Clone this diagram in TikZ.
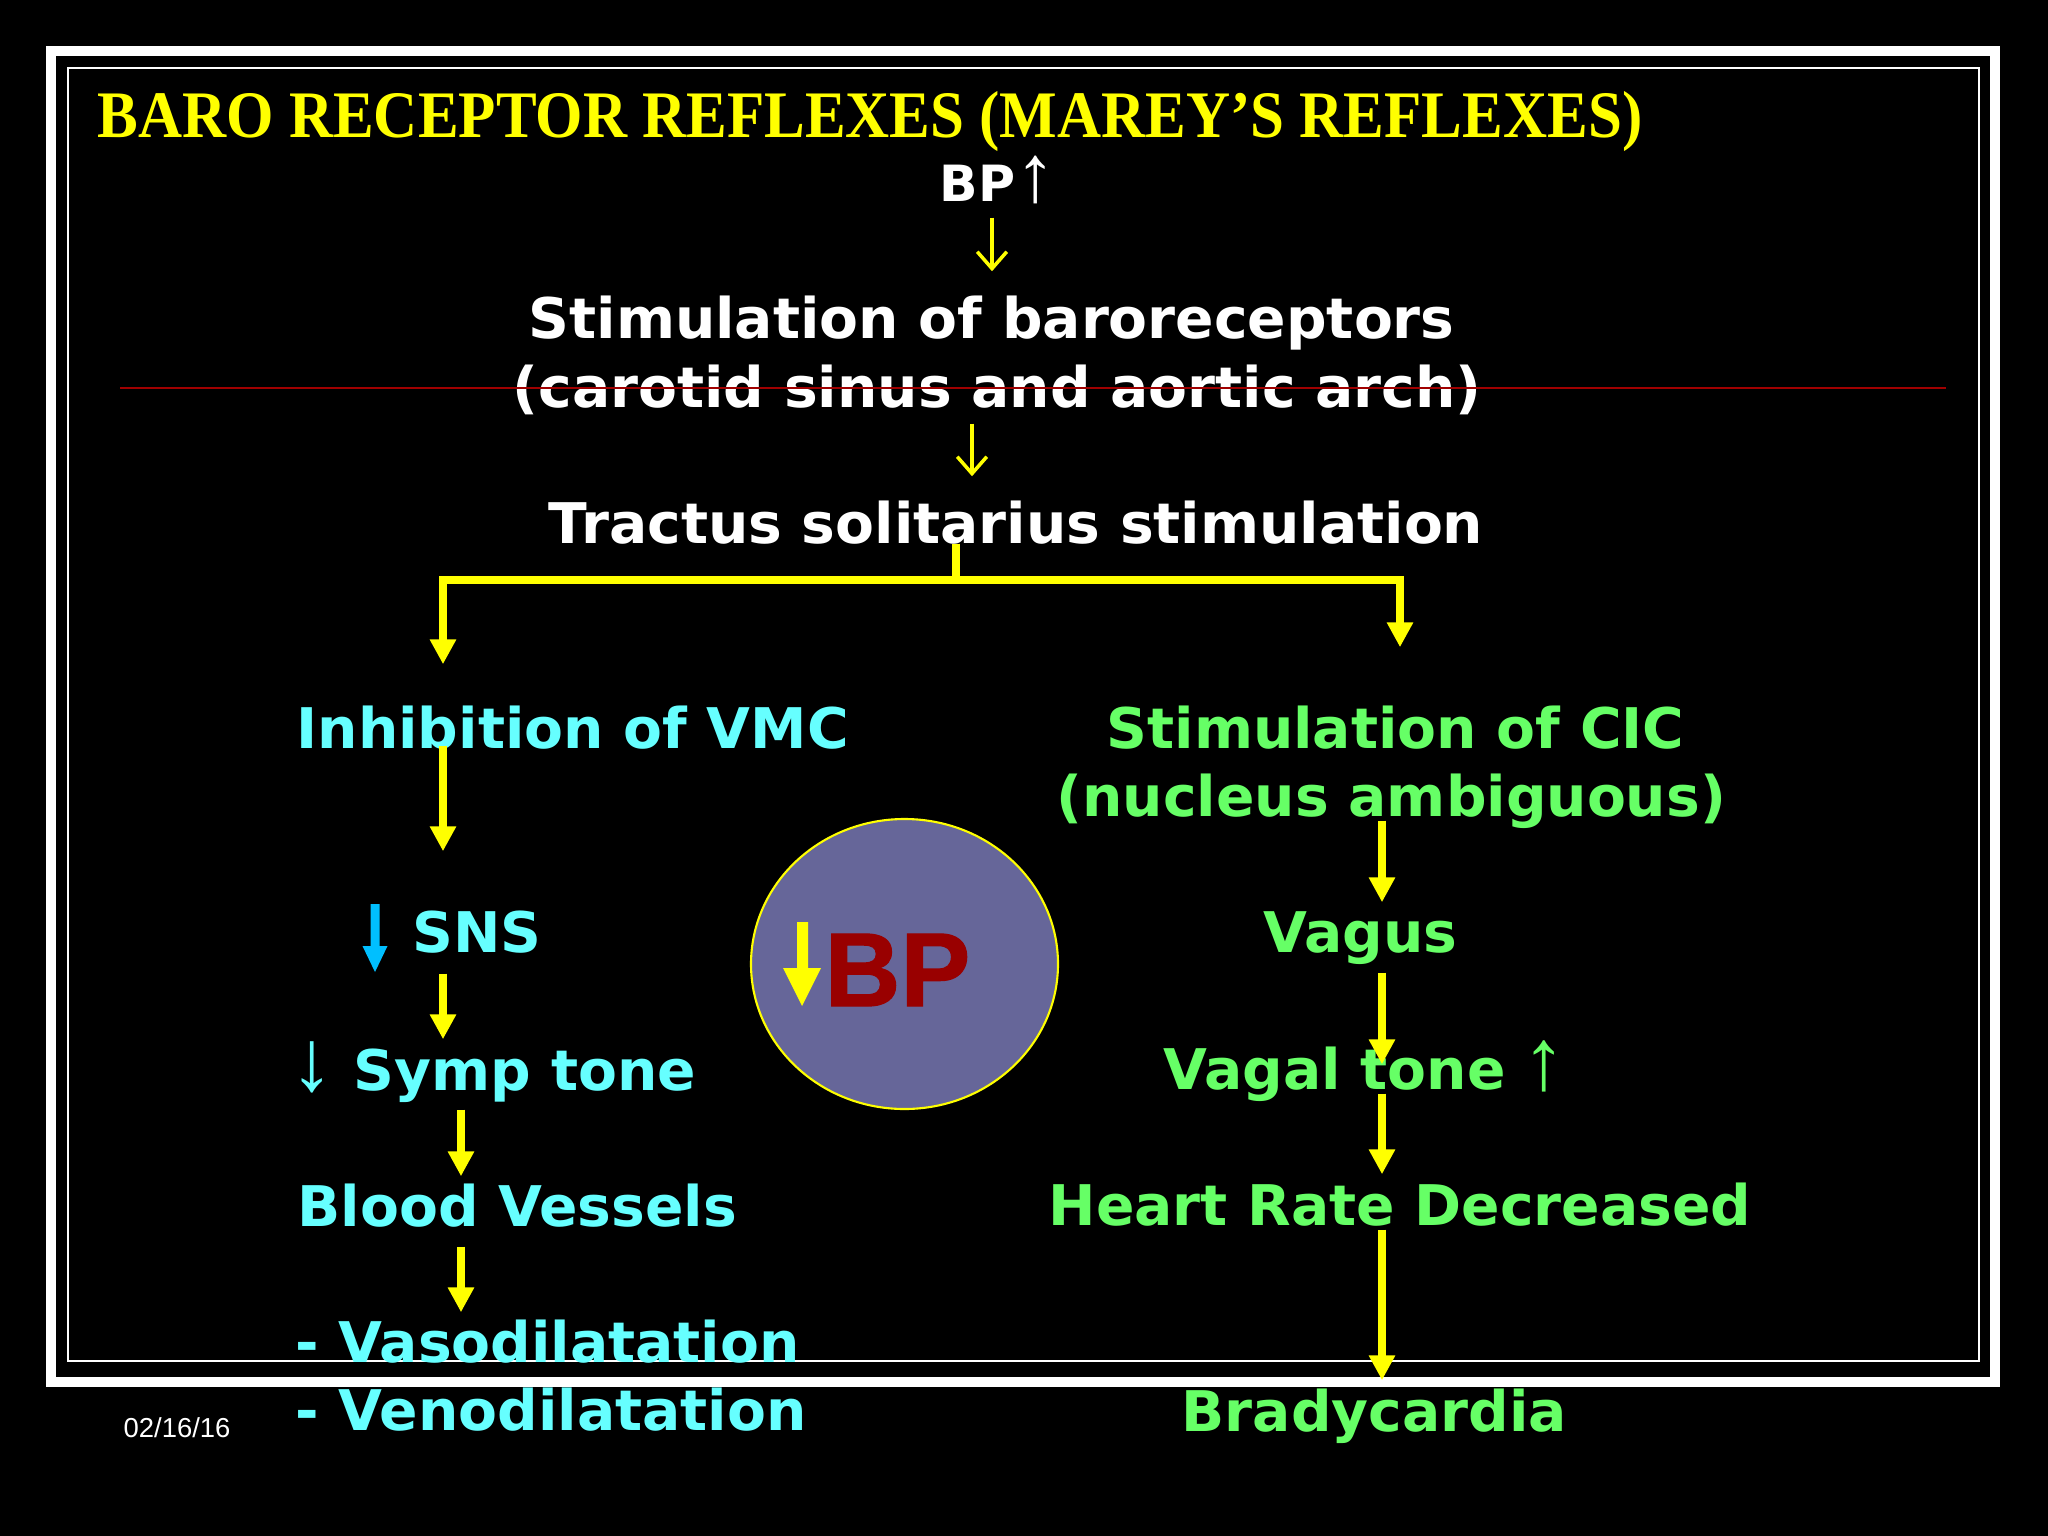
\documentclass[tikz,border=0pt]{standalone}
\usepackage{fontspec}
\setmainfont{DejaVu Sans}[FakeStretch=1.012]
\newfontfamily\titlefont{Liberation Serif}[FakeStretch=0.918]
\newfontfamily\arrowfont{Liberation Sans}
\newfontfamily\bpfont{Liberation Sans Bold}[FakeBold=1.2]
\usetikzlibrary{arrows.meta, calc, positioning}

\definecolor{ylw}{HTML}{FFFF00}
\definecolor{cyn}{HTML}{66FFFF}
\definecolor{grn}{HTML}{66FF66}
\definecolor{sky}{HTML}{00BFFF}
\definecolor{slate}{HTML}{666699}
\definecolor{bpred}{HTML}{990000}
\definecolor{rule}{HTML}{A00000}

% one pixel of the 2048 x 1536 slide
\newdimen\px \px=0.28453pt
\newcommand{\thinarr}[1]{{\arrowfont\mdseries\fontsize{24.7pt}{25pt}\selectfont #1}}

\tikzset{
  txt/.style={inner sep=0pt, anchor=base west, text height=11.67pt, text depth=0pt,
    font=\bfseries\fontsize{15.93pt}{19pt}\selectfont},
  flow/.style={draw=ylw, line width=2pt, -{Triangle[length=7.1pt, width=7.1pt]},
    shorten <=4\px, shorten >=8\px},
  thinflow/.style={draw=ylw, line width=1pt, -{Straight Barb[length=4.8pt, width=8.4pt]},
    shorten <=16\px, shorten >=25\px},
}

\begin{document}
\begin{tikzpicture}[x=0.01cm, y=-0.01cm]
    % slide
    \fill[black] (0,0) rectangle (2048,1536);
    \draw[white, line width=2.85pt] (51,51) rectangle (1995,1382);
    \draw[white, line width=0.6pt] (68,68) rectangle (1979,1361);

    % title
    \node[inner sep=0pt, anchor=base west, text=ylw,
      font=\titlefont\bfseries\fontsize{18.9pt}{22pt}\selectfont] (title) at (97,137)
      {BARO RECEPTOR REFLEXES (MAREY’S REFLEXES)};

    % falling BP in the middle
    \draw[ylw, line width=0.6pt, fill=slate] (904.5,964) ellipse [x radius=153.5, y radius=145];
    \fill[ylw] (797,922) -- (808,922) -- (808,968) -- (821,968) -- (802,1006)
      -- (783,968) -- (797,968) -- cycle;
    \node[inner sep=0pt, anchor=base west, text=bpred,
      font=\bpfont\fontsize{29.8pt}{32pt}\selectfont] (lowbp) at (824,1006) {BP};

    % main chain
    \node[txt, white, font=\bfseries\fontsize{14.2pt}{17pt}\selectfont] (bp) at (939,201)
      {BP{\arrowfont\mdseries\fontsize{23pt}{23pt}\selectfont ↑}};
    \node[txt, white] (baro) at (528,338) {Stimulation of baroreceptors};
    \node[txt, white] (baroloc) at (512,407) {(carotid sinus and aortic arch)};
    \node[txt, white] (tractus) at (548,543) {Tractus solitarius stimulation};

    % left branch
    \node[txt, cyn] (inh) at (296,748) {Inhibition of VMC};
    \node[txt, cyn] (sns) at (412,952) {SNS};
    \fill[sky] (370.5,904) -- (379.5,904) -- (379.5,946) -- (387.5,946) -- (375,972)
      -- (362.5,946) -- (370.5,946) -- cycle;
    \node[txt, cyn] (symp) at (290,1090) {\thinarr{↓} Symp tone};
    \node[txt, cyn] (bv) at (297,1226) {Blood Vessels};
    \node[txt, cyn] (vaso) at (295,1362) {- Vasodilatation};
    \node[txt, cyn] (veno) at (295,1430) {- Venodilatation};

    % right branch
    \node[txt, grn] (cic) at (1106,748) {Stimulation of CIC};
    \node[txt, grn] (cicnuc) at (1056,816) {(nucleus ambiguous)};
    \node[txt, grn] (vagus) at (1263,952) {Vagus};
    \node[txt, grn] (vagal) at (1163,1089) {Vagal tone\hspace{-3\px} \thinarr{↑}};
    \node[txt, grn] (hrd) at (1048,1225) {Heart Rate Decreased};
    \node[txt, grn] (brady) at (1181,1431) {Bradycardia};

    \node[inner sep=0pt, anchor=base west, white,
      font=\arrowfont\fontsize{7.8pt}{9pt}\selectfont] (date) at (123,1437) {02/16/16};

    % arrow columns
    \coordinate (dx) at (992,0);
    \coordinate (dx2) at (972,0);
    \coordinate (fork) at (956,580);
    \coordinate (lx) at (443,0);
    \coordinate (lx2) at (461,0);
    \coordinate (rx) at (1400,0);
    \coordinate (rx2) at (1382,0);

    \draw[thinflow] (bp.south -| dx) -- (baro.north -| dx);
    \draw[thinflow] (baroloc.south -| dx2) -- (tractus.north -| dx2);

    \draw[ylw, line width=2pt] (tractus.south -| fork) -- (fork);
    \draw[flow, shorten <=0pt, shorten >=42\px] (fork) -| (inh.north -| lx);
    \draw[flow, shorten <=0pt, shorten >=59\px] (fork) -| (cic.north -| rx);

    \draw[flow, shorten <=-3\px, shorten >=59\px] (inh.south -| lx) -- (sns.north -| lx);
    \draw[flow, shorten <=21\px, shorten >=9\px] (sns.south -| lx) -- (symp.north -| lx);
    \draw[flow, shorten <=19\px] (symp.south -| lx2) -- (bv.north -| lx2);
    \draw[flow, shorten <=20\px] (bv.south -| lx2) -- (vaso.north -| lx2);

    \draw[flow] (cicnuc.south -| rx2) -- (vagus.north -| rx2);
    \draw[flow, shorten <=20\px, shorten >=-17\px] (vagus.south -| rx2) -- (vagal.north -| rx2);
    \draw[flow, shorten >=9\px] (vagal.south -| rx2) -- (hrd.north -| rx2);
    \draw[flow, shorten >=9\px] (hrd.south -| rx2) -- (brady.north -| rx2);

    % red rule across the slide
    \draw[rule, line width=0.6pt] (120,388) -- (1946,388);
\end{tikzpicture}
\end{document}
